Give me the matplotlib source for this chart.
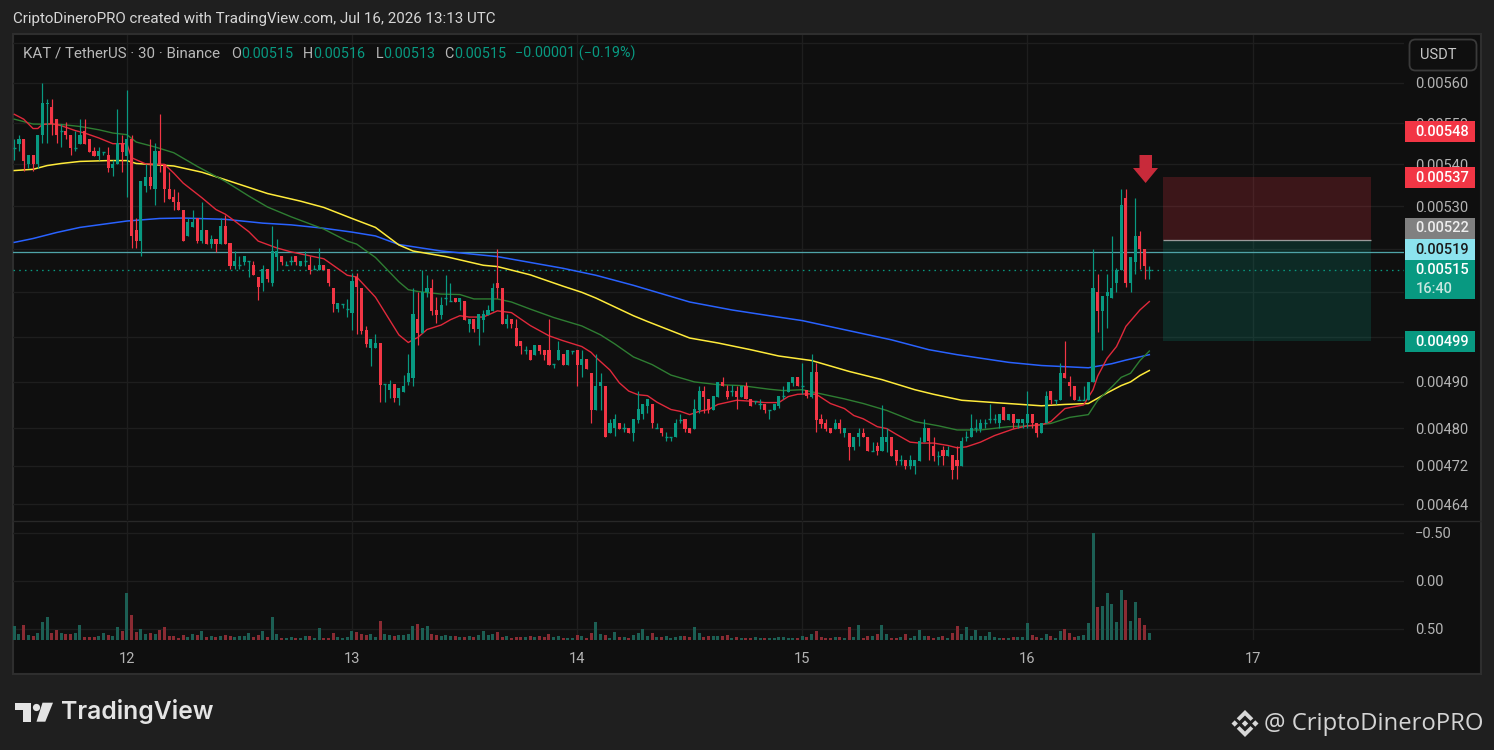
import numpy as np
import matplotlib
matplotlib.use("Agg")
import matplotlib.pyplot as plt
from matplotlib.patches import Rectangle, Polygon, FancyBboxPatch, Circle

plt.rcParams['font.family'] = ['Roboto', 'DejaVu Sans']

# ---- data: prices in units of 0.00001 USDT, one entry per 30 min candle ----
opens = [544,545,546.2,540,542.2,540,547,554.7,554,551,548.1,548.2,547.2,544,545,548.2,546.2,543.1,541.9,543,
 542.2,539,540,545.2,541.9,546.2,524.3,521.9,534.9,537,534,543.1,540.1,534.2,532.1,531.1,529.2,523,525,527.1,
 521.9,524.3,521.1,522.2,521.1,525.3,521.3,516,516.2,517,517.1,516.3,513.4,512.2,515.4,512.2,518.1,518.3,516.2,517.1,
 518.3,516,517.1,516.3,515.4,515.2,516.3,515.4,510.9,506.2,507.4,506.3,505.3,513.4,510.9,501.6,497.4,497.4,498.6,489.6,
 488.3,489.6,486.5,487.9,490,490.9,504,500.8,510,510.9,506,504.9,508.8,508,508.8,507.8,508,502.9,504,501.7,
 503.8,504.9,505.8,512.2,510.9,502.9,504,502,499,497.1,497.1,496,498.2,497.1,497.1,493.9,494.9,496.2,493.8,496.9,
 497.1,493.8,495.1,492,484,489,489.2,478.9,480.1,481.2,480,480.1,478.9,481.8,483,484.8,485.1,480,480.1,478.2,
 478.2,478,481.8,482,480.1,479.9,484,488.1,486.2,484,486.8,490,488.1,488.1,488.1,486.8,489.2,486.2,485.9,485.1,
 485.1,484,484,484.8,487,487.9,489.8,491.1,489.2,488.3,486.8,492.1,482,481.1,480.1,479.9,481.1,478.9,479,475.9,
 478,479,478.2,475.1,476.1,475.1,477,478.2,475.3,473.2,473.2,472,472,473,477,480.1,476.1,474,475.3,474,
 474.2,473.2,472,478.2,478,480.1,479.9,481.2,481.9,482,481,484.5,481.8,483.1,481,481,481,483.1,481.1,478.9,
 481,488.1,486.1,486,492,490,489.2,486.1,486.1,486,489.9,510.1,505.8,509.1,508.8,512.1,515.1,532,512.1,517,
 523,520,515]
highs = [546.2,547.2,546.2,542.2,542.2,547.2,560,556,556,551,549.7,550.2,547.2,548.2,551,551,546.2,544.1,544.1,543,
 544.1,541.1,553.6,547.2,558.1,547.2,527.1,536,540.1,546.2,545.2,552.2,540.1,538.2,534.2,533.3,529.2,527.1,529.2,527.1,
 531.1,524.3,523.2,522.2,527.1,528,521.3,519.4,518.3,518.3,517.1,517.2,513.4,516.3,515.4,525.3,522.2,518.3,517.2,518.3,
 518.3,517.2,519.4,518.3,516.3,520.2,516.3,515.4,510.9,507.5,507.4,508.4,514.4,514.4,510.9,502.4,499.5,500.7,498.6,489.6,
 490.4,489.6,488.6,491.6,496.2,510.9,510,515,514,513.1,509,509,514,512.2,508.8,508.8,508,504,504,505.1,
 506,507.2,512.2,520,510.9,505.1,504,504,499,498,497.1,498.2,498.2,497.1,504,493.9,499,496.2,497.1,496.9,
 497.1,497.1,495.1,492,496.2,492,489.2,482,483.1,481.2,481.2,480.1,482,488.1,485.1,486.2,485.1,481.2,480.1,479.1,
 478.2,482,483.1,482,480.1,486.2,489.2,489.2,486.2,487,490,491.1,489.4,489.4,489.2,489.2,490,486.2,485.9,486.2,
 485.1,484,485.1,487,489.2,490,491.1,491.1,494.1,488.3,496.2,494.1,483.1,482,480.1,482,482,480.1,479,478.2,
 480.1,480.1,478.2,477.1,477,485,480.1,478.2,475.3,474.3,473.2,474.3,473.2,478.2,482,480.1,478.2,475.1,476.1,476.1,
 474.2,476.1,478.2,479.3,483.1,482,482,482,485.1,483.1,483.1,484.5,483.1,483.1,482,482,488.1,483.1,481.1,481.1,
 488.1,488.1,486.1,494.1,499,491.2,489.2,487,489.2,490,520,514.1,509.1,514.1,523,515.5,534.1,534.1,518.1,532,
 524.2,520,516]
lows = [541.1,543.2,538.3,539.2,538.3,539.2,545.2,545.2,547.2,545.2,544.2,546.2,542.2,543.1,545,545,542.9,541.9,541.1,542.2,
 538.2,537.1,540,538.2,532.1,520.2,520.2,518.4,533.3,534.2,530.2,538.2,531.1,531.8,529.2,529,521.9,523,525,521.3,
 521.3,521.1,520.2,519.3,521.1,521.1,515.4,515.4,515.4,516.3,513.4,514,508.3,510.4,512.4,511.5,515.2,516.3,516.2,516.3,
 516.3,516,516,514.3,515.4,515.2,515.2,511.5,505.5,505.5,506.4,504.4,501.5,500.6,500.6,497.6,493.6,497.4,485.7,485.7,
 486.6,485.7,484.9,487.9,489.3,489.2,498.2,500.8,509,504.9,503,504,507.2,508,507.8,506,503.8,501,501,498.2,
 501,504.9,505.8,508.8,502.9,502,502,498,496.2,496.2,494.9,496,496.2,494.9,493.8,493,494.9,493.8,493.8,496.2,
 489.2,491,492.9,481.1,484,484,478,478.9,478.3,479.9,479.1,478.9,477.2,481,482,483.2,480.1,480,478.3,477.2,
 477.2,478,481.2,479.1,478.9,479.9,483.2,483.2,483.2,484,486.8,489,486.2,487,484.2,486.8,486.2,484.8,485.1,484.2,
 483.2,482,484,484.4,486.2,487.9,489.2,489,487.3,486.4,486.4,479.1,480,479.3,478.9,479.9,479,478.2,473.2,475.3,
 476.1,478,475.1,475.1,474.3,475.1,475,474,472.2,472.2,471.3,471.3,470.2,473,477,473.2,473,472.2,472.2,474,
 469.2,469.2,472,477.2,478,479.1,479.1,480.1,481.1,481.1,480.1,481.8,481.8,480.1,480.1,480.1,480.1,480.1,478.2,478.9,
 481,485.1,485.1,486,490.9,487,486,486.1,486.1,486,489.9,501.1,497.1,502,508.8,510.1,515.1,511.2,510.1,514.1,
 515.3,513.1,513.1]
closes = [544,546.2,540.9,542.2,540,547.2,554.9,554.9,549.7,547,548.1,547,543.9,544,547.2,545,542.9,541.9,543.1,543,
 539,540.1,545.2,542.9,546.2,522.9,521.9,536,537,534.9,543.1,540,534,531.8,530.9,529,521.9,526.2,526.2,521.9,
 524.3,521.1,522.2,521.1,525.3,521.1,516,517.2,516.2,518.3,517.1,514,511.1,515.4,513.1,519.5,519.4,517,516.2,517.1,
 517,517.2,517.1,515.2,515.4,516.3,515.2,512.2,507.3,507.5,507.4,506.3,512.5,511.1,501.3,498.4,499.5,498.6,489.3,489.6,
 489.6,486.5,488.6,489.2,492,505.1,500.8,510,510.9,505.8,504.9,507.2,508.8,508,507.8,508.8,503.8,504,501.7,505.1,
 505.1,506,510.9,510.9,502.9,504,502.9,498,498,497.1,494.9,498.2,496.9,496,493.8,493.9,497.1,493.8,497.1,496.9,
 493.8,495.1,492.9,484,489.2,490,478,481.2,482,479.9,480,478.9,482,484.2,485.1,486.2,481,480,478.9,478.2,
 478.2,481.2,481.8,479.9,478.9,484.2,488.1,486.8,484,487,490,489,486.8,488.1,486.8,489.2,486.2,484.8,485.9,485.1,
 484,484,485.1,487,487,490,491.1,489,489.2,487,492.1,481.8,480.9,479.9,478.9,481.1,479.9,480.1,475.9,478.2,
 479,478,475.1,475.1,475.1,478.2,478.2,474,473,473.2,472,473.2,473.2,477.2,480.1,477.2,474,474,474,475.3,
 471.1,472,477.2,478.2,480.1,480.1,481.1,481.2,481.9,482,483.1,481.8,483.1,481,482,482,483.1,481,478.9,481.1,
 487,486,486.1,492,490.9,489,486,486.1,486.1,490,511,505.8,509.1,510.1,511,515.1,530.2,512.1,518.1,523,
 520,516,515]
volumes = [14,6,15,5,4,7,18,23,7,10,7,6,6,7,15,3,3,3,4,7,5,4,13,9,47,25,8,11,6,7,6,10,13,4,4,2,5,3,6,5,
 9,3,4,3,4,5,4,3,4,4,7,3,5,9,3,23,6,2,2,3,2,2,4,4,2,12,2,2,7,3,2,3,9,8,6,5,6,3,19,6,
 5,4,5,5,6,14,16,12,14,6,5,4,5,4,4,3,3,4,3,5,9,5,6,8,3,4,2,3,3,3,4,3,4,3,6,3,4,2,2,2,
 5,4,2,7,18,6,5,2,8,3,3,2,5,7,11,4,7,3,3,4,2,3,4,4,3,13,7,3,4,4,4,4,5,2,3,2,2,2,3,2,
 2,2,2,3,3,2,2,2,4,3,6,9,3,2,2,3,3,2,13,3,15,2,4,4,6,15,6,2,2,3,6,2,4,10,4,4,2,3,4,2,
 7,14,6,13,4,10,4,4,8,3,2,2,2,3,3,3,17,5,3,2,6,4,2,9,11,7,3,4,5,17,107,33,34,47,36,18,50,40,19,38,
 22,15,7]

fast_i = [0,2,4,5,6,8,10,13,15,18,21,24,25,28,32,34,36,40,43,45,47,50,52,56,59,66,71,73,77,82,84,85,86,88,91,93,95,97,100,103,106,110,114,117,121,123,124,127,129,131,133,135,137,140,142,144,146,148,150,154,157,160,163,165,167,169,171,174,177,179,181,184,186,188,191,193,196,199,201,203,206,209,213,216,219,221,224,228,230,231,233,235,236,237,240,242]
fast_v = [552.2,551,548.7,548.7,549.7,549.9,549.4,548.2,547.6,546.4,545,545,541.6,540.1,540,537.9,535.5,532,529.2,528.1,526.5,524,521.8,520.2,519.3,517.7,513.9,513.5,508.9,500.4,498.7,499.3,499.8,501.6,502.6,503.8,504.7,504.4,504.4,505.8,505.4,502.5,500.2,499.1,497.8,496.5,495.4,492.6,489.8,488,487.2,487,485.6,484,483.6,482.9,483.6,484,485.1,486,485.8,485.5,485.5,486.8,487.3,487.4,487.3,485.3,484.2,482.7,482,480.3,479.9,478.7,477,476.8,476.8,476.3,475.8,476,477,478.4,479.8,480.5,480.7,481.4,484.2,485,488.3,491.3,495.2,497.8,500,502.3,506,507.9]
mid_i = [0,4,10,14,18,21,24,26,30,34,39,45,50,54,59,66,71,73,77,82,84,86,91,95,98,103,106,110,115,121,125,128,132,136,140,145,150,155,161,164,168,172,177,181,186,192,197,201,206,212,217,221,225,229,231,234,236,238,240,242]
mid_v = [551,549.8,549.7,549.2,548.4,547.6,547.2,545.4,544.2,542.8,539.5,535.9,532.4,529.8,527.5,524.6,521.8,521.1,518,512.4,510.6,510.2,509.6,509.5,508.5,508.5,507.8,506.2,504.3,502.4,500.4,498.4,495.5,493.8,491.5,490,489.4,489.2,488.4,488.1,488.3,487.4,486.3,485.3,483.8,481.4,480.5,479.6,479.6,480.3,480.5,481,482.3,482.9,486,488.9,491,491.9,494.7,496.8]
slow_i = [0,4,7,10,14,20,24,26,34,40,45,54,61,66,72,77,82,85,92,100,103,110,117,121,124,132,135,144,150,157,163,170,178,185,192,196,202,209,219,224,229,233,236,238,240,242]
slow_v = [538.5,538.8,539.7,540.2,540.7,540.9,540.9,540.2,539.6,538.1,536.3,533,531.2,529.7,527.1,525,520.9,519.5,518.2,516.2,515.9,514,511.4,510,508.7,504.7,503.4,499.7,498.6,497.1,495.7,494.7,492.3,490.5,488.3,487.3,486,485.5,484.8,485.1,485.3,487.6,489.2,490,491.4,492.5]
long_i = [0,4,9,14,20,24,31,36,45,53,59,66,72,77,82,91,103,117,124,132,144,153,161,168,187,195,201,212,219,229,234,237,242]
long_v = [521.5,522.4,523.8,525,525.9,526.5,527.1,527.2,526.9,526,525.6,524.8,523.9,523,521,519.5,518.2,515.5,513.9,511.6,507.8,506,504.7,503.6,499.3,497.1,496,494.3,493.6,493.1,494,494.8,496]

day_ticks = [24,72,120,168,216,264]
day_labels = ['12','13','14','15','16','17']
price_ticks = [560,550,540,530,520,510,500,490,480,472,464]
price_hidden_labels = [520,510,500]
price_grid_extra = [570]
vol_ticks = [11,59,107]
vol_labels = ['0.50','0.00','\u22120.50']
last_price, bid_line = 515, 519.2
entry, stop, target = 522, 537, 499
box_start, box_end = 244.9, 289.2

# ---- colours ----
FIG_BG, PANEL, GRID, BORDER = '#1f1f1f', '#0f0f0f', '#1e1e1e', '#2e2e2e'
UP, DOWN = '#089981', '#F23645'
VOL_UP, VOL_DOWN = '#1c5f54', '#8a2b33'
AXTXT = '#b4b4b4'

W, H = 1494, 750
fig = plt.figure(figsize=(W/100, H/100), dpi=100, facecolor=FIG_BG)

def fx(x): return x / W
def fy(y): return 1 - y / H
def frect(x0, y0, x1, y1):
    return [fx(x0), fy(y1), (x1-x0)/W, (y1-y0)/H]

panel = Rectangle((fx(13), fy(674)), 1468/W, 640/H, transform=fig.transFigure,
                  facecolor=PANEL, edgecolor=BORDER, linewidth=1.5, zorder=-5)
fig.add_artist(panel)
fig.add_artist(plt.Line2D([fx(13), fx(1481)], [fy(520.5)]*2, color='#282828', lw=1.0, zorder=-4))

PXPT = 72/100
xlim = (-0.277, 296.3)

# ---- price pane ----
ax = fig.add_axes(frect(13, 35, 1404, 520), facecolor='none')
ax.set_yscale('log')
ax.set_xlim(*xlim)
ax.set_ylim(460.7, 572.1)
for s in ax.spines.values():
    s.set_visible(False)
ax.yaxis.tick_right()
ax.minorticks_off()
ax.set_yticks(price_ticks)
ax.set_yticklabels(['' if p in price_hidden_labels else f'{p/1e5:.5f}' for p in price_ticks],
                   fontsize=10.5, color=AXTXT)
ax.set_yticks([], minor=True)
ax.tick_params(axis='y', length=0, pad=8)
ax.set_xticks(day_ticks)
ax.tick_params(axis='x', length=0, labelbottom=False)
ax.grid(True, axis='both', color=GRID, lw=1)
for p in price_grid_extra:
    ax.axhline(p, color=GRID, lw=1, zorder=0.5)
ax.set_axisbelow(True)

xs = np.arange(len(opens))
O, Hi, Lo, C = map(np.array, (opens, highs, lows, closes))
is_up = C >= O
cols = np.where(is_up, UP, DOWN)

ax.add_patch(Rectangle((box_start, entry), box_end-box_start, stop-entry, facecolor=DOWN, alpha=0.2, lw=0, zorder=1))
ax.add_patch(Rectangle((box_start, target), box_end-box_start, entry-target, facecolor=UP, alpha=0.2, lw=0, zorder=1))
ax.hlines(entry, box_start, box_end, color='#9a9a9a', lw=1*PXPT*1.3, zorder=1.5)

ax.axhline(bid_line, color='#4fa3a8', lw=1*PXPT*1.3, zorder=1.6)
ax.axhline(last_price, color=UP, lw=1*PXPT*1.3, ls=(0, (1.2, 3.2)), zorder=1.6)

ax.plot(long_i, long_v, color='#2962FF', lw=1.1, zorder=1.8)
ax.plot(slow_i, slow_v, color='#FFEB3B', lw=1.1, zorder=1.8)
ax.plot(mid_i, mid_v, color='#2E7D32', lw=1.0, zorder=1.8)
ax.plot(fast_i, fast_v, color='#E0293B', lw=1.0, zorder=1.8)

ax.vlines(xs, Lo, Hi, colors=cols, lw=1*PXPT*1.2, zorder=2)
ax.bar(xs, C-O, bottom=O, width=0.66, color=cols, linewidth=0, zorder=2.1)
dj = O == C
ax.hlines(O[dj], xs[dj]-0.33, xs[dj]+0.33, colors=cols[dj], lw=1*PXPT*1.4, zorder=2.1)

# ---- volume pane ----
axv = fig.add_axes(frect(13, 521, 1404, 640), facecolor='none')
axv.set_xlim(*xlim)
axv.set_ylim(0, 119)
for s in axv.spines.values():
    s.set_visible(False)
axv.yaxis.tick_right()
axv.set_yticks(vol_ticks)
axv.set_yticklabels(vol_labels, fontsize=10.5, color=AXTXT)
axv.set_xticks(day_ticks)
axv.set_xticklabels(day_labels, fontsize=10.5, color=AXTXT)
axv.tick_params(axis='y', length=0, pad=8)
axv.tick_params(axis='x', length=0, pad=8.5)
axv.grid(True, axis='both', color=GRID, lw=1)
axv.set_axisbelow(True)
axv.bar(xs, volumes, width=0.64, color=np.where(is_up, VOL_UP, VOL_DOWN), linewidth=0, zorder=2)

# ---- right-hand tags ----
def tag(y0, y1, face, lines):
    fig.add_artist(Rectangle((fx(1405), fy(y1)), 70/W, (y1-y0)/H, transform=fig.transFigure,
                             facecolor=face, edgecolor='none', zorder=5))
    n = len(lines)
    for k, (s, c) in enumerate(lines):
        yc = y0 + (y1-y0)*(k+0.5)/n
        fig.text(fx(1415.5), fy(yc), s, color=c, fontsize=10.5, va='center', ha='left',
                 fontweight='medium', zorder=6)

tag(121, 142, DOWN, [('0.00548', 'white')])
tag(167, 188, DOWN, [('0.00537', 'white')])
tag(218, 239, '#808080', [('0.00522', '#eeeeee')])
tag(239, 260, '#8ce3ee', [('0.00519', '#1a1a1a')])
tag(260, 298.7, UP, [('0.00515', 'white'), ('16:40', '#c8e6df')])
tag(331, 352, UP, [('0.00499', 'white')])

# signal arrow
fig.add_artist(Polygon([(fx(1139.5), fy(155)), (fx(1152), fy(155)), (fx(1152), fy(168)), (fx(1158), fy(168)),
                        (fx(1145.6), fy(183)), (fx(1133), fy(168)), (fx(1139.5), fy(168))],
                       closed=True, transform=fig.transFigure, facecolor='#c82a3a', edgecolor='none', zorder=4))

# USDT button
fig.add_artist(FancyBboxPatch((fx(1409.5), fy(70.5)), 67/W, 31/H, transform=fig.transFigure,
                              boxstyle='round,pad=0,rounding_size=0.004', facecolor=PANEL,
                              edgecolor='#3a3a3a', lw=1.3, zorder=5, mutation_aspect=2))
fig.text(fx(1420), fy(55), 'USDT', color='#c8c8c8', fontsize=10.5, va='center', zorder=6)

# ---- header and legend ----
fig.text(fx(13), fy(19.5), 'CriptoDineroPRO created with TradingView.com, Jul 16, 2026 13:13 UTC',
         color='#d6d6d6', fontsize=10.9, va='center')
fig.text(fx(23), fy(53.5), 'KAT / TetherUS \u00b7 30 \u00b7 Binance', color='#b8b8b8', fontsize=10.9, va='center')
for x, s, c in [(231, 'O', '#b8b8b8'), (241.5, '0.00515', UP), (303, 'H', '#b8b8b8'), (313, '0.00516', UP),
                (375.5, 'L', '#b8b8b8'), (383, '0.00513', UP), (444, 'C', '#b8b8b8'), (454, '0.00515', UP),
                (515, '\u22120.00001 (\u22120.19%)', UP)]:
    fig.text(fx(x), fy(53.5), s, color=c, fontsize=10.4, va='center')

# ---- TradingView logo ----
LOGO = '#e4e4e4'
fig.add_artist(Polygon([(fx(a), fy(b)) for a, b in [(15.3, 702.7), (30.6, 702.7), (30.6, 721.7), (23, 721.7), (23, 709.6), (15.3, 709.6)]],
                       closed=True, transform=fig.transFigure, fc=LOGO, ec='none'))
fig.add_artist(plt.Line2D([fx(35.8)], [fy(706.6)], marker='o', ms=5.2, mfc=LOGO, mec='none', ls='none'))
fig.add_artist(Polygon([(fx(a), fy(b)) for a, b in [(42.5, 702.7), (53, 702.7), (45.3, 721.7), (36.5, 721.7)]],
                       closed=True, transform=fig.transFigure, fc=LOGO, ec='none'))
fig.text(fx(61), fy(712), 'TradingView', color=LOGO, fontsize=17.8, va='center', family=['Inter', 'DejaVu Sans'], fontweight='semibold')

# ---- author mark ----
cx, cy = 1245, 723.5
def dia(px_list):
    fig.add_artist(Polygon([(fx(cx+a), fy(cy+b)) for a, b in px_list], closed=True,
                           transform=fig.transFigure, fc='#d8d8d8', ec='none'))
dia([(-3.2, 0), (0, -3.2), (3.2, 0), (0, 3.2)])
dia([(-13.5, 0), (-10.3, -3.2), (-7.1, 0), (-10.3, 3.2)])
dia([(13.5, 0), (10.3, -3.2), (7.1, 0), (10.3, 3.2)])
dia([(0, -13.5), (8.3, -5.2), (5.5, -2.6), (0, -8), (-5.5, -2.6), (-8.3, -5.2)])
dia([(0, 13.5), (8.3, 5.2), (5.5, 2.6), (0, 8), (-5.5, 2.6), (-8.3, 5.2)])
fig.text(fx(1264), fy(724), '@ CriptoDineroPRO', color='#d4d4d4', fontsize=17.2, va='center',
         family=['Open Sans', 'DejaVu Sans'])

fig.savefig('out.png', dpi=100, facecolor=FIG_BG)
